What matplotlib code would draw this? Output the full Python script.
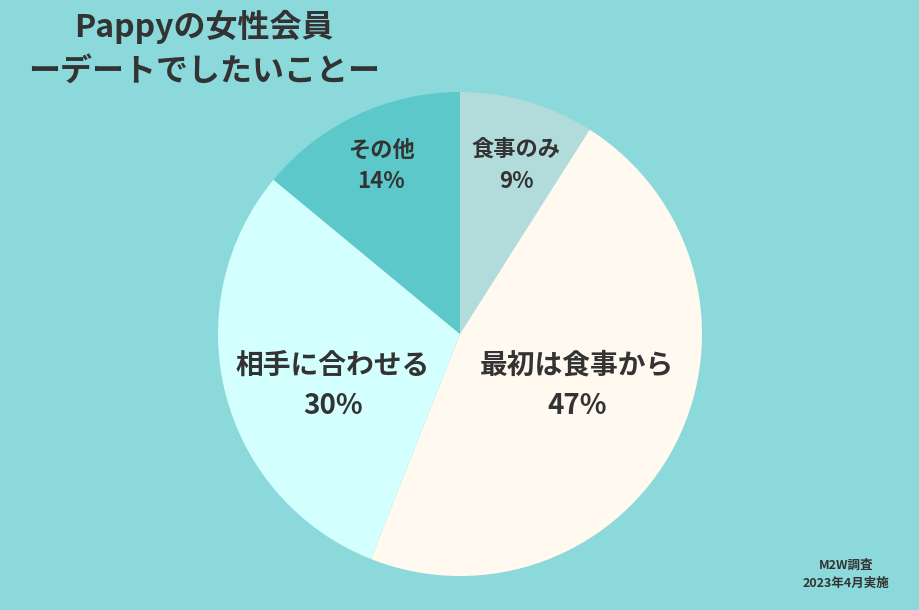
import matplotlib
matplotlib.use('Agg')
import matplotlib.pyplot as plt

plt.rcParams['font.family'] = ['Noto Sans CJK JP', 'DejaVu Sans']

# データ
labels = ['食事のみ', '最初は食事から', '相手に合わせる', 'その他']
values = [9, 47, 30, 14]
colors = ['#B2DCDC', '#FFF9F0', '#D3FFFF', '#5CC8C9']
bg = '#8CD9DC'
txt = '#333333'

fig = plt.figure(figsize=(9.2, 6.1), dpi=100, facecolor=bg)
ax = fig.add_axes([0, 0, 1, 1])
ax.set_facecolor(bg)

cx, cy, r = 460, 610 - 334, 242
wedges, _ = ax.pie(values, colors=colors, startangle=90, counterclock=False,
                   center=(cx, cy), radius=r, frame=True,
                   wedgeprops=dict(linewidth=0))
ax.set_xlim(0, 920)
ax.set_ylim(0, 610)
ax.set_aspect('equal')
ax.axis('off')

# ラベルの位置 (中心からのずれ px) とフォントサイズ
lab_off = [(56, 168), (117, -52), (-127, -52), (-79, 168)]
lab_fs = [16, 20, 20, 16]
for lab, v, (dx, dy), fs in zip(labels, values, lab_off, lab_fs):
    x, y = cx + dx, cy + dy
    gap = 20 if fs == 20 else 15.5
    ax.text(x, y + gap, lab, ha='center', va='center', fontsize=fs,
            fontweight='bold', color=txt)
    ax.text(x, y - gap, f'{v}%', ha='center', va='center', fontsize=fs,
            fontweight='bold', color=txt)

fig.text(204 / 920, 1 - 27 / 610, 'Pappyの女性会員', ha='center', va='center',
         fontsize=23, fontweight='bold', color=txt)
fig.text(204 / 920, 1 - 73 / 610, 'ーデートでしたいことー', ha='center', va='center',
         fontsize=23, fontweight='bold', color=txt)

fig.text(846 / 920, 1 - 565 / 610, 'M2W調査', ha='center', va='center',
         fontsize=9, fontweight='bold', color=txt)
fig.text(846 / 920, 1 - 583 / 610, '2023年4月実施', ha='center', va='center',
         fontsize=9, fontweight='bold', color=txt)

fig.savefig('out.png', dpi=100, facecolor=bg)
